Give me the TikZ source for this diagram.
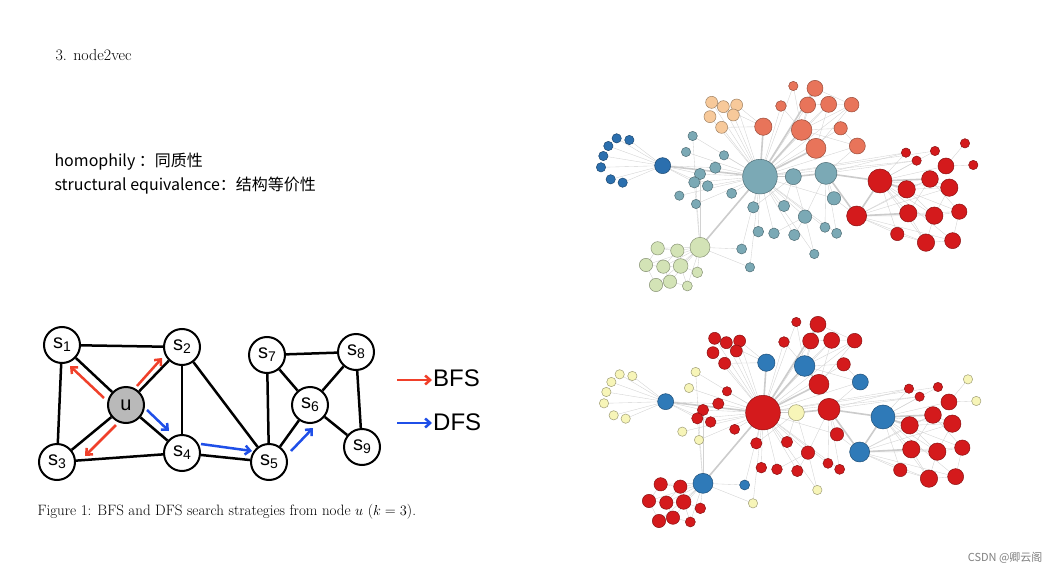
\documentclass[tikz,border=0pt]{standalone}
\usepackage{fontspec}
\setsansfont{Liberation Sans}
\newfontfamily\cjk{Noto Sans CJK SC}
\usetikzlibrary{arrows.meta}
\definecolor{dblue}{HTML}{2B6FAE}
\definecolor{teal}{HTML}{7BA9B5}
\definecolor{peach}{HTML}{F7C99A}
\definecolor{salmon}{HTML}{E8745A}
\definecolor{nred}{HTML}{D41A1C}
\definecolor{ngreen}{HTML}{D3E3B6}
\definecolor{nyel}{HTML}{F7F5B8}
\definecolor{nblue}{HTML}{2F7AB8}
\definecolor{bfsred}{HTML}{F0402A}
\definecolor{dfsblue}{HTML}{1F4FE8}
\tikzset{
 gnode/.style={circle,draw=black,line width=2pt,fill=white,minimum size=36pt,inner sep=0pt,font=\sffamily\fontsize{20}{20}\selectfont},
 gedge/.style={line width=2.5pt},
 bfs/.style={bfsred,line width=2.5pt,-{Straight Barb[length=5pt,width=9pt]}},
 dfs/.style={dfsblue,line width=2.5pt,-{Straight Barb[length=5pt,width=9pt]}},
 nedge/.style={gray!35,line width=0.35pt},
 tedge/.style={gray!40,line width=1.6pt},
}
\newcommand{\sub}[1]{\raisebox{-0.3ex}{\fontsize{14}{14}\selectfont #1}}
\def\netlist{110/205/14/dblue/nyel,148/210/14/dblue/nyel,85/228/14/dblue/nyel,70/258/14/dblue/nyel,63/292/14/dblue/nyel,92/328/14/dblue/nyel,128/338/14/dblue/nyel,248/287/24/dblue/nblue,
338/198/14/teal/nyel,318/246/14/teal/nyel,432/256/14/teal/nred,406/293/17/teal/nred,360/312/17/teal/nred,343/337/17/teal/nred,383/348/16/teal/nred,298/377/14/teal/nyel,348/402/14/teal/nyel,455/370/15/teal/nred,520/412/17/teal/nred,612/408/17/teal/nred,535/485/16/teal/nred,582/490/16/teal/nred,643/495/17/teal/nred,735/472/15/teal/nred,770/490/15/teal/nred,485/537/15/teal/nblue,703/552/14/teal/nyel,510/592/14/teal/nyel,
540/320/52/teal/nred,640/320/24/teal/nyel,738/310/33/teal/nred,762/385/20/teal/nred,675/440/20/teal/nred,
395/97/18/peach/nred,430/110/18/peach/nred,470/105/18/peach/nred,390/140/18/peach/nred,460/135/18/peach/nred,425/172/18/peach/nred,
640/48/14/salmon/nred,705/55/24/salmon/nred,603/108/16/salmon/nred,683/105/24/salmon/nred,746/103/24/salmon/nred,815/104/22/salmon/nred,550/170/26/salmon/nblue,665/180/31/salmon/nblue,782/175/20/salmon/nred,708/235/30/salmon/nred,832/228/24/salmon/nblue,
900/333/36/nred/nblue,830/438/30/nred/nblue,978/248/14/nred/nred,1010/272/14/nred/nred,1065/243/14/nred/nred,1155/220/14/nred/nyel,1180/285/14/nred/nyel,1098/288/24/nred/nred,980/358/26/nred/nred,1050/327/25/nred/nred,1108/353/26/nred/nred,985/430/26/nred/nred,1063/437/26/nred/nred,1138/425/23/nred/nred,952/492/20/nred/nred,1038/518/26/nred/nred,1118/512/24/nred/nred,
360/532/30/ngreen/nblue,233/535/20/ngreen/nred,292/542/20/ngreen/nred,198/585/20/ngreen/nred,250/590/20/ngreen/nred,302/588/22/ngreen/nred,228/645/20/ngreen/nred,270/635/20/ngreen/nred,352/607/16/ngreen/nred,322/648/15/ngreen/nred}
\def\thin{8/1,8/2,8/3,8/4,8/5,8/6,8/7,29/9,29/10,29/11,29/12,29/13,29/14,29/15,29/16,29/17,29/18,29/19,29/20,29/21,29/22,29/23,29/24,29/25,29/26,29/27,29/28,29/34,29/35,29/36,29/37,29/38,29/39,29/40,29/42,29/43,29/44,29/45,29/48,29/50,29/32,29/33,29/53,29/54,29/55,
46/34,46/36,46/39,47/40,47/41,47/42,47/43,47/44,47/45,47/48,47/50,49/44,49/45,48/50,43/44,44/45,41/43,41/45,
31/32,31/33,31/50,31/53,31/54,31/24,31/25,33/22,33/23,33/27,32/52,30/19,30/20,30/33,
51/53,51/54,51/55,51/58,51/59,51/60,51/61,51/62,51/63,51/64,51/65,51/66,51/67,52/59,52/60,52/61,52/62,52/63,52/64,52/65,52/66,52/67,58/56,58/57,59/60,59/61,60/61,60/62,61/63,62/63,63/64,62/66,63/66,66/67,64/67,65/66,59/63,60/64,
68/69,68/70,68/71,68/72,68/73,68/74,68/75,68/76,68/77,69/70,69/71,70/72,71/72,72/73,71/74,72/75,74/75,73/76,75/77,73/77,68/26,68/28,68/9,68/13,68/14,29/68,8/12,8/13,8/14,8/15}
\def\thick{8/29,29/30,30/31,31/51,29/46,29/47,29/49,29/41,47/49,52/51,52/31,29/68,51/59,52/62,51/60}
\newcommand{\drawnet}[1]{%
 \foreach \x/\y/\r/\a/\b [count=\i] in \netlist {\coordinate (p\i) at (\x,\y);}
 \foreach \u/\v in \thin {\draw[nedge] (p\u)--(p\v);}
 \foreach \u/\v in \thick {\draw[tedge] (p\u)--(p\v);}
 \foreach \x/\y/\r/\a/\b in \netlist {\ifnum#1=1 \def\cc{\a}\else\def\cc{\b}\fi
   \fill[\cc,draw=\cc!65!black,line width=0.5pt] (\x,\y) circle (\r);}
}
\begin{document}
\begin{tikzpicture}[x=1pt,y=-1pt]
\useasboundingbox (0,0) rectangle (1057,575);
\fill[white] (0,0) rectangle (1057,575);
\node[anchor=west,font=\fontsize{16}{16}\selectfont] (title) at (52,55) {3. node2vec};
\node[anchor=west,font=\cjk\fontsize{16}{16}\selectfont] (hom) at (51,162) {homophily ：同质性};
\node[anchor=west,font=\cjk\fontsize{16}{16}\selectfont] (str) at (51,186) {structural equivalence：结构等价性};
% left graph
\node[gnode] (s1) at (62,345) {s\sub{1}};
\node[gnode] (s2) at (182,347) {s\sub{2}};
\node[gnode,fill=gray!55] (u) at (126,405) {u};
\node[gnode] (s3) at (57,462) {s\sub{3}};
\node[gnode] (s4) at (182,453) {s\sub{4}};
\node[gnode] (s5) at (269,462) {s\sub{5}};
\node[gnode] (s7) at (267,355) {s\sub{7}};
\node[gnode] (s8) at (356,352) {s\sub{8}};
\node[gnode] (s6) at (310,405) {s\sub{6}};
\node[gnode] (s9) at (362,447) {s\sub{9}};
\foreach \a/\b in {s1/s2,s1/s3,s1/u,u/s2,u/s3,u/s4,s2/s4,s2/s5,s3/s4,s4/s5,s5/s7,s5/s6,s7/s8,s7/s6,s8/s6,s8/s9,s6/s9}
  \draw[gedge] (\a)--(\b);
\draw[bfs] (104,398)--(70,366);
\draw[bfs] (137,386)--(162,358);
\draw[bfs] (116,425)--(85,456);
\draw[dfs] (147,410)--(169,431);
\draw[dfs] (201,444)--(252,451);
\draw[dfs] (291,451)--(313,428);
\coordinate (b1) at (397,380); \coordinate (b2) at (432,380);
\coordinate (d1) at (397,423); \coordinate (d2) at (432,423);
\draw[bfs] (b1)--(b2);
\draw[dfs] (d1)--(d2);
\node[anchor=west,inner sep=0pt,font=\sffamily\fontsize{24}{24}\selectfont] (bfst) at (433,378) {BFS};
\node[anchor=west,inner sep=0pt,font=\sffamily\fontsize{24}{24}\selectfont] (dfst) at (433,422) {DFS};
\node[anchor=west,font=\fontsize{15}{15}\selectfont] (cap) at (34,512) {Figure 1: BFS and DFS search strategies from node $u$ ($k=3$).};
% networks
\begin{scope}[shift={(580,70)},x=0.3333pt,y=-0.3333pt]
\drawnet{1}
\end{scope}
\begin{scope}[shift={(583,306)},x=0.3333pt,y=-0.3333pt]
\drawnet{2}
\end{scope}
\node[anchor=east,font=\cjk\fontsize{11}{11}\selectfont,text=gray] (csdn) at (1046,558) {CSDN @卿云阁};
\end{tikzpicture}
\end{document}
